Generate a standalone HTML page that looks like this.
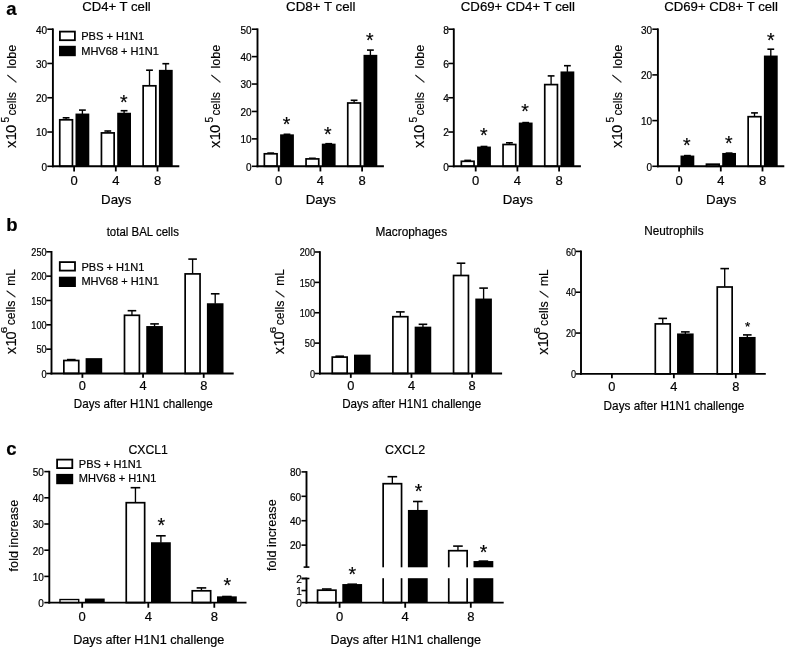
<!DOCTYPE html>
<html lang="en">
<head>
<meta charset="utf-8">
<title>Figure</title>
<style>
html,body{margin:0;padding:0;background:#fff;}
body{width:785px;height:647px;overflow:hidden;}
svg{display:block;filter:blur(0.45px);}
svg text{font-family:"Liberation Sans", sans-serif;fill:#000;stroke:#000;stroke-width:0.2px;}
svg text.r{stroke-width:0.15px;}
svg text.s{stroke-width:0.4px;}
svg line{stroke:#000;}
</style>
</head>
<body>
<svg width="785" height="647" viewBox="0 0 785 647">
<rect x="0" y="0" width="785" height="647" fill="#fff"/>
<text x="6.3" y="15.2" font-size="18.5" font-weight="bold">a</text>
<line x1="66.1" y1="119.45" x2="66.1" y2="117.8" stroke-width="1.35"/>
<line x1="62.7" y1="117.8" x2="69.5" y2="117.8" stroke-width="1.6"/>
<rect x="59.75" y="119.8" width="12.7" height="46.5" fill="#fff" stroke="#000" stroke-width="1.7"/>
<line x1="82.4" y1="114.05" x2="82.4" y2="110.1" stroke-width="1.35"/>
<line x1="79" y1="110.1" x2="85.8" y2="110.1" stroke-width="1.6"/>
<rect x="75.5" y="113.55" width="13.8" height="52.75" fill="#000"/>
<line x1="107.8" y1="132.55" x2="107.8" y2="131" stroke-width="1.35"/>
<line x1="104.4" y1="131" x2="111.2" y2="131" stroke-width="1.6"/>
<rect x="101.45" y="132.9" width="12.7" height="33.4" fill="#fff" stroke="#000" stroke-width="1.7"/>
<line x1="124.1" y1="113.25" x2="124.1" y2="110.7" stroke-width="1.35"/>
<line x1="120.7" y1="110.7" x2="127.5" y2="110.7" stroke-width="1.6"/>
<rect x="117.2" y="112.75" width="13.8" height="53.55" fill="#000"/>
<line x1="149.5" y1="85.45" x2="149.5" y2="70.2" stroke-width="1.35"/>
<line x1="146.1" y1="70.2" x2="152.9" y2="70.2" stroke-width="1.6"/>
<rect x="143.15" y="85.8" width="12.7" height="80.5" fill="#fff" stroke="#000" stroke-width="1.7"/>
<line x1="165.8" y1="70.35" x2="165.8" y2="63.7" stroke-width="1.35"/>
<line x1="162.4" y1="63.7" x2="169.2" y2="63.7" stroke-width="1.6"/>
<rect x="158.9" y="69.85" width="13.8" height="96.45" fill="#000"/>
<line x1="52.9" y1="28.4" x2="52.9" y2="167.25" stroke-width="1.9"/>
<line x1="47.3" y1="166.3" x2="52.9" y2="166.3" stroke-width="1.6"/>
<text x="47" y="170.6" font-size="10" text-anchor="end">0</text>
<line x1="47.3" y1="132.03" x2="52.9" y2="132.03" stroke-width="1.6"/>
<text x="47" y="136.32" font-size="10" text-anchor="end">10</text>
<line x1="47.3" y1="97.75" x2="52.9" y2="97.75" stroke-width="1.6"/>
<text x="47" y="102.05" font-size="10" text-anchor="end">20</text>
<line x1="47.3" y1="63.47" x2="52.9" y2="63.47" stroke-width="1.6"/>
<text x="47" y="67.77" font-size="10" text-anchor="end">30</text>
<line x1="47.3" y1="29.2" x2="52.9" y2="29.2" stroke-width="1.6"/>
<text x="47" y="33.5" font-size="10" text-anchor="end">40</text>
<line x1="51.95" y1="166.3" x2="179.3" y2="166.3" stroke-width="1.9"/>
<line x1="74.1" y1="166.3" x2="74.1" y2="171.45" stroke-width="1.8"/>
<text x="74.1" y="184.6" font-size="13" text-anchor="middle">0</text>
<line x1="115.8" y1="166.3" x2="115.8" y2="171.45" stroke-width="1.8"/>
<text x="115.8" y="184.6" font-size="13" text-anchor="middle">4</text>
<line x1="157.5" y1="166.3" x2="157.5" y2="171.45" stroke-width="1.8"/>
<text x="157.5" y="184.6" font-size="13" text-anchor="middle">8</text>
<text x="82.2" y="10.7" font-size="12.8" textLength="68.6" lengthAdjust="spacingAndGlyphs">CD4+ T cell</text>
<text x="116.2" y="203.9" font-size="13" text-anchor="middle" textLength="30.2" lengthAdjust="spacingAndGlyphs">Days</text>
<text x="123.7" y="109.12" font-size="19.5" text-anchor="middle">*</text>
<text class="r" font-size="14.8" transform="translate(16.3 148) rotate(-90)" x="0 7.7 15">x10</text>
<text font-size="10.2" class="r" transform="translate(8.5 122.6) rotate(-90)">5</text>
<text font-size="12" textLength="23.6" lengthAdjust="spacingAndGlyphs" class="r" transform="translate(16.2 115.6) rotate(-90)">cells</text>
<text class="s" font-size="11.6" transform="translate(15.8 82.6) rotate(-90) skewX(-28)">/</text>
<text font-size="12" textLength="23.8" lengthAdjust="spacingAndGlyphs" class="r" transform="translate(16.2 68.5) rotate(-90)">lobe</text>
<line x1="270.7" y1="153.45" x2="270.7" y2="153.1" stroke-width="1.35"/>
<line x1="267.3" y1="153.1" x2="274.1" y2="153.1" stroke-width="1.6"/>
<rect x="264.35" y="153.8" width="12.7" height="12.5" fill="#fff" stroke="#000" stroke-width="1.7"/>
<line x1="287" y1="134.85" x2="287" y2="134.3" stroke-width="1.35"/>
<line x1="283.6" y1="134.3" x2="290.4" y2="134.3" stroke-width="1.6"/>
<rect x="280.1" y="134.35" width="13.8" height="31.95" fill="#000"/>
<line x1="312.4" y1="158.55" x2="312.4" y2="158.3" stroke-width="1.35"/>
<line x1="309" y1="158.3" x2="315.8" y2="158.3" stroke-width="1.6"/>
<rect x="306.05" y="158.9" width="12.7" height="7.4" fill="#fff" stroke="#000" stroke-width="1.7"/>
<line x1="328.7" y1="144.15" x2="328.7" y2="143.7" stroke-width="1.35"/>
<line x1="325.3" y1="143.7" x2="332.1" y2="143.7" stroke-width="1.6"/>
<rect x="321.8" y="143.65" width="13.8" height="22.65" fill="#000"/>
<line x1="354.1" y1="102.65" x2="354.1" y2="100.3" stroke-width="1.35"/>
<line x1="350.7" y1="100.3" x2="357.5" y2="100.3" stroke-width="1.6"/>
<rect x="347.75" y="103" width="12.7" height="63.3" fill="#fff" stroke="#000" stroke-width="1.7"/>
<line x1="370.4" y1="55.35" x2="370.4" y2="50.1" stroke-width="1.35"/>
<line x1="367" y1="50.1" x2="373.8" y2="50.1" stroke-width="1.6"/>
<rect x="363.5" y="54.85" width="13.8" height="111.45" fill="#000"/>
<line x1="257.5" y1="28.4" x2="257.5" y2="167.25" stroke-width="1.9"/>
<line x1="251.9" y1="166.3" x2="257.5" y2="166.3" stroke-width="1.6"/>
<text x="251.6" y="170.6" font-size="10" text-anchor="end">0</text>
<line x1="251.9" y1="138.88" x2="257.5" y2="138.88" stroke-width="1.6"/>
<text x="251.6" y="143.18" font-size="10" text-anchor="end">10</text>
<line x1="251.9" y1="111.46" x2="257.5" y2="111.46" stroke-width="1.6"/>
<text x="251.6" y="115.76" font-size="10" text-anchor="end">20</text>
<line x1="251.9" y1="84.04" x2="257.5" y2="84.04" stroke-width="1.6"/>
<text x="251.6" y="88.34" font-size="10" text-anchor="end">30</text>
<line x1="251.9" y1="56.62" x2="257.5" y2="56.62" stroke-width="1.6"/>
<text x="251.6" y="60.92" font-size="10" text-anchor="end">40</text>
<line x1="251.9" y1="29.2" x2="257.5" y2="29.2" stroke-width="1.6"/>
<text x="251.6" y="33.5" font-size="10" text-anchor="end">50</text>
<line x1="256.55" y1="166.3" x2="383.9" y2="166.3" stroke-width="1.9"/>
<line x1="278.7" y1="166.3" x2="278.7" y2="171.45" stroke-width="1.8"/>
<text x="278.7" y="184.6" font-size="13" text-anchor="middle">0</text>
<line x1="320.4" y1="166.3" x2="320.4" y2="171.45" stroke-width="1.8"/>
<text x="320.4" y="184.6" font-size="13" text-anchor="middle">4</text>
<line x1="362.1" y1="166.3" x2="362.1" y2="171.45" stroke-width="1.8"/>
<text x="362.1" y="184.6" font-size="13" text-anchor="middle">8</text>
<text x="286.1" y="10.7" font-size="12.8" textLength="69.4" lengthAdjust="spacingAndGlyphs">CD8+ T cell</text>
<text x="320.8" y="203.9" font-size="13" text-anchor="middle" textLength="30.2" lengthAdjust="spacingAndGlyphs">Days</text>
<text x="286.5" y="131.32" font-size="19.5" text-anchor="middle">*</text>
<text x="327.9" y="140.72" font-size="19.5" text-anchor="middle">*</text>
<text x="369.7" y="47.02" font-size="19.5" text-anchor="middle">*</text>
<text class="r" font-size="14.8" transform="translate(220.3 148) rotate(-90)" x="0 7.7 15">x10</text>
<text font-size="10.2" class="r" transform="translate(212.5 122.6) rotate(-90)">5</text>
<text font-size="12" textLength="23.6" lengthAdjust="spacingAndGlyphs" class="r" transform="translate(220.2 115.6) rotate(-90)">cells</text>
<text class="s" font-size="11.6" transform="translate(219.8 82.6) rotate(-90) skewX(-28)">/</text>
<text font-size="12" textLength="23.8" lengthAdjust="spacingAndGlyphs" class="r" transform="translate(220.2 68.5) rotate(-90)">lobe</text>
<line x1="467.7" y1="160.95" x2="467.7" y2="160.4" stroke-width="1.35"/>
<line x1="464.3" y1="160.4" x2="471.1" y2="160.4" stroke-width="1.6"/>
<rect x="461.35" y="161.3" width="12.7" height="5" fill="#fff" stroke="#000" stroke-width="1.7"/>
<line x1="484" y1="147.05" x2="484" y2="146.5" stroke-width="1.35"/>
<line x1="480.6" y1="146.5" x2="487.4" y2="146.5" stroke-width="1.6"/>
<rect x="477.1" y="146.55" width="13.8" height="19.75" fill="#000"/>
<line x1="509.4" y1="144.15" x2="509.4" y2="142.8" stroke-width="1.35"/>
<line x1="506" y1="142.8" x2="512.8" y2="142.8" stroke-width="1.6"/>
<rect x="503.05" y="144.5" width="12.7" height="21.8" fill="#fff" stroke="#000" stroke-width="1.7"/>
<line x1="525.7" y1="123.05" x2="525.7" y2="122.6" stroke-width="1.35"/>
<line x1="522.3" y1="122.6" x2="529.1" y2="122.6" stroke-width="1.6"/>
<rect x="518.8" y="122.55" width="13.8" height="43.75" fill="#000"/>
<line x1="551.1" y1="84.25" x2="551.1" y2="75.9" stroke-width="1.35"/>
<line x1="547.7" y1="75.9" x2="554.5" y2="75.9" stroke-width="1.6"/>
<rect x="544.75" y="84.6" width="12.7" height="81.7" fill="#fff" stroke="#000" stroke-width="1.7"/>
<line x1="567.4" y1="71.95" x2="567.4" y2="65.7" stroke-width="1.35"/>
<line x1="564" y1="65.7" x2="570.8" y2="65.7" stroke-width="1.6"/>
<rect x="560.5" y="71.45" width="13.8" height="94.85" fill="#000"/>
<line x1="453.8" y1="28.4" x2="453.8" y2="167.25" stroke-width="1.9"/>
<line x1="448.2" y1="166.3" x2="453.8" y2="166.3" stroke-width="1.6"/>
<text x="448.8" y="170.6" font-size="10" text-anchor="end">0</text>
<line x1="448.2" y1="132.03" x2="453.8" y2="132.03" stroke-width="1.6"/>
<text x="448.8" y="136.32" font-size="10" text-anchor="end">2</text>
<line x1="448.2" y1="97.75" x2="453.8" y2="97.75" stroke-width="1.6"/>
<text x="448.8" y="102.05" font-size="10" text-anchor="end">4</text>
<line x1="448.2" y1="63.47" x2="453.8" y2="63.47" stroke-width="1.6"/>
<text x="448.8" y="67.77" font-size="10" text-anchor="end">6</text>
<line x1="448.2" y1="29.2" x2="453.8" y2="29.2" stroke-width="1.6"/>
<text x="448.8" y="33.5" font-size="10" text-anchor="end">8</text>
<line x1="452.85" y1="166.3" x2="580.9" y2="166.3" stroke-width="1.9"/>
<line x1="475.7" y1="166.3" x2="475.7" y2="171.45" stroke-width="1.8"/>
<text x="475.7" y="184.6" font-size="13" text-anchor="middle">0</text>
<line x1="517.4" y1="166.3" x2="517.4" y2="171.45" stroke-width="1.8"/>
<text x="517.4" y="184.6" font-size="13" text-anchor="middle">4</text>
<line x1="559.1" y1="166.3" x2="559.1" y2="171.45" stroke-width="1.8"/>
<text x="559.1" y="184.6" font-size="13" text-anchor="middle">8</text>
<text x="460.8" y="10.7" font-size="12.8" textLength="114.2" lengthAdjust="spacingAndGlyphs">CD69+ CD4+ T cell</text>
<text x="517.8" y="203.9" font-size="13" text-anchor="middle" textLength="30.2" lengthAdjust="spacingAndGlyphs">Days</text>
<text x="483.7" y="142.12" font-size="19.5" text-anchor="middle">*</text>
<text x="525" y="118.22" font-size="19.5" text-anchor="middle">*</text>
<text class="r" font-size="14.8" transform="translate(424.4 148) rotate(-90)" x="0 7.7 15">x10</text>
<text font-size="10.2" class="r" transform="translate(416.6 122.6) rotate(-90)">5</text>
<text font-size="12" textLength="23.6" lengthAdjust="spacingAndGlyphs" class="r" transform="translate(424.3 115.6) rotate(-90)">cells</text>
<text class="s" font-size="11.6" transform="translate(423.9 82.6) rotate(-90) skewX(-28)">/</text>
<text font-size="12" textLength="23.8" lengthAdjust="spacingAndGlyphs" class="r" transform="translate(424.3 68.5) rotate(-90)">lobe</text>
<line x1="687.4" y1="156.05" x2="687.4" y2="155.6" stroke-width="1.35"/>
<line x1="684" y1="155.6" x2="690.8" y2="155.6" stroke-width="1.6"/>
<rect x="680.5" y="155.55" width="13.8" height="10.75" fill="#000"/>
<rect x="706.45" y="164.2" width="12.7" height="2.1" fill="#fff" stroke="#000" stroke-width="1.7"/>
<line x1="729.1" y1="153.45" x2="729.1" y2="153.1" stroke-width="1.35"/>
<line x1="725.7" y1="153.1" x2="732.5" y2="153.1" stroke-width="1.6"/>
<rect x="722.2" y="152.95" width="13.8" height="13.35" fill="#000"/>
<line x1="754.5" y1="116.35" x2="754.5" y2="112.9" stroke-width="1.35"/>
<line x1="751.1" y1="112.9" x2="757.9" y2="112.9" stroke-width="1.6"/>
<rect x="748.15" y="116.7" width="12.7" height="49.6" fill="#fff" stroke="#000" stroke-width="1.7"/>
<line x1="770.8" y1="56.05" x2="770.8" y2="49.2" stroke-width="1.35"/>
<line x1="767.4" y1="49.2" x2="774.2" y2="49.2" stroke-width="1.6"/>
<rect x="763.9" y="55.55" width="13.8" height="110.75" fill="#000"/>
<line x1="657.9" y1="28.4" x2="657.9" y2="167.25" stroke-width="1.9"/>
<line x1="652.3" y1="166.3" x2="657.9" y2="166.3" stroke-width="1.6"/>
<text x="652" y="170.6" font-size="10" text-anchor="end">0</text>
<line x1="652.3" y1="120.6" x2="657.9" y2="120.6" stroke-width="1.6"/>
<text x="652" y="124.9" font-size="10" text-anchor="end">10</text>
<line x1="652.3" y1="74.9" x2="657.9" y2="74.9" stroke-width="1.6"/>
<text x="652" y="79.2" font-size="10" text-anchor="end">20</text>
<line x1="652.3" y1="29.2" x2="657.9" y2="29.2" stroke-width="1.6"/>
<text x="652" y="33.5" font-size="10" text-anchor="end">30</text>
<line x1="656.95" y1="166.3" x2="784.3" y2="166.3" stroke-width="1.9"/>
<line x1="679.1" y1="166.3" x2="679.1" y2="171.45" stroke-width="1.8"/>
<text x="679.1" y="184.6" font-size="13" text-anchor="middle">0</text>
<line x1="720.8" y1="166.3" x2="720.8" y2="171.45" stroke-width="1.8"/>
<text x="720.8" y="184.6" font-size="13" text-anchor="middle">4</text>
<line x1="762.5" y1="166.3" x2="762.5" y2="171.45" stroke-width="1.8"/>
<text x="762.5" y="184.6" font-size="13" text-anchor="middle">8</text>
<text x="664.2" y="10.7" font-size="12.8" textLength="113.8" lengthAdjust="spacingAndGlyphs">CD69+ CD8+ T cell</text>
<text x="721.2" y="203.9" font-size="13" text-anchor="middle" textLength="30.2" lengthAdjust="spacingAndGlyphs">Days</text>
<text x="686.9" y="152.12" font-size="19.5" text-anchor="middle">*</text>
<text x="728.7" y="149.52" font-size="19.5" text-anchor="middle">*</text>
<text x="770.8" y="46.92" font-size="19.5" text-anchor="middle">*</text>
<text class="r" font-size="14.8" transform="translate(621.6 148) rotate(-90)" x="0 7.7 15">x10</text>
<text font-size="10.2" class="r" transform="translate(613.8 122.6) rotate(-90)">5</text>
<text font-size="12" textLength="23.6" lengthAdjust="spacingAndGlyphs" class="r" transform="translate(621.5 115.6) rotate(-90)">cells</text>
<text class="s" font-size="11.6" transform="translate(621.1 82.6) rotate(-90) skewX(-28)">/</text>
<text font-size="12" textLength="23.8" lengthAdjust="spacingAndGlyphs" class="r" transform="translate(621.5 68.5) rotate(-90)">lobe</text>
<rect x="59.9" y="31.6" width="15" height="8.6" fill="#fff" stroke="#000" stroke-width="1.8"/>
<rect x="59" y="45.8" width="16.8" height="10.4" fill="#000"/>
<text x="81.2" y="40.1" font-size="10.9" textLength="63" lengthAdjust="spacingAndGlyphs">PBS + H1N1</text>
<text x="81.2" y="54.6" font-size="10.9" textLength="77.6" lengthAdjust="spacingAndGlyphs">MHV68 + H1N1</text>
<text x="6.3" y="230.9" font-size="18.5" font-weight="bold">b</text>
<line x1="71.3" y1="360.15" x2="71.3" y2="359.6" stroke-width="1.35"/>
<line x1="67" y1="359.6" x2="75.6" y2="359.6" stroke-width="1.6"/>
<rect x="63.85" y="360.5" width="14.9" height="13" fill="#fff" stroke="#000" stroke-width="1.7"/>
<rect x="85.6" y="358.15" width="16.6" height="15.35" fill="#000"/>
<line x1="131.95" y1="314.95" x2="131.95" y2="310.7" stroke-width="1.35"/>
<line x1="127.65" y1="310.7" x2="136.25" y2="310.7" stroke-width="1.6"/>
<rect x="124.5" y="315.3" width="14.9" height="58.2" fill="#fff" stroke="#000" stroke-width="1.7"/>
<line x1="154.55" y1="326.55" x2="154.55" y2="323.9" stroke-width="1.35"/>
<line x1="150.25" y1="323.9" x2="158.85" y2="323.9" stroke-width="1.6"/>
<rect x="146.25" y="326.05" width="16.6" height="47.45" fill="#000"/>
<line x1="192.6" y1="273.55" x2="192.6" y2="259.1" stroke-width="1.35"/>
<line x1="188.3" y1="259.1" x2="196.9" y2="259.1" stroke-width="1.6"/>
<rect x="185.15" y="273.9" width="14.9" height="99.6" fill="#fff" stroke="#000" stroke-width="1.7"/>
<line x1="215.2" y1="303.75" x2="215.2" y2="293.8" stroke-width="1.35"/>
<line x1="210.9" y1="293.8" x2="219.5" y2="293.8" stroke-width="1.6"/>
<rect x="206.9" y="303.25" width="16.6" height="70.25" fill="#000"/>
<line x1="51.5" y1="251" x2="51.5" y2="374.45" stroke-width="1.9"/>
<line x1="46.3" y1="373.5" x2="51.5" y2="373.5" stroke-width="1.6"/>
<text x="46.6" y="377.62" font-size="10.3" text-anchor="end" textLength="5.1" lengthAdjust="spacingAndGlyphs">0</text>
<line x1="46.3" y1="349.16" x2="51.5" y2="349.16" stroke-width="1.6"/>
<text x="46.6" y="353.28" font-size="10.3" text-anchor="end" textLength="10.19" lengthAdjust="spacingAndGlyphs">50</text>
<line x1="46.3" y1="324.82" x2="51.5" y2="324.82" stroke-width="1.6"/>
<text x="46.6" y="328.94" font-size="10.3" text-anchor="end" textLength="15.29" lengthAdjust="spacingAndGlyphs">100</text>
<line x1="46.3" y1="300.48" x2="51.5" y2="300.48" stroke-width="1.6"/>
<text x="46.6" y="304.6" font-size="10.3" text-anchor="end" textLength="15.29" lengthAdjust="spacingAndGlyphs">150</text>
<line x1="46.3" y1="276.14" x2="51.5" y2="276.14" stroke-width="1.6"/>
<text x="46.6" y="280.26" font-size="10.3" text-anchor="end" textLength="15.29" lengthAdjust="spacingAndGlyphs">200</text>
<line x1="46.3" y1="251.8" x2="51.5" y2="251.8" stroke-width="1.6"/>
<text x="46.6" y="255.92" font-size="10.3" text-anchor="end" textLength="15.29" lengthAdjust="spacingAndGlyphs">250</text>
<line x1="50.55" y1="373.5" x2="233.7" y2="373.5" stroke-width="1.9"/>
<line x1="82.4" y1="373.5" x2="82.4" y2="377.85" stroke-width="1.8"/>
<text x="82.4" y="389.7" font-size="12.8" text-anchor="middle">0</text>
<line x1="143.05" y1="373.5" x2="143.05" y2="377.85" stroke-width="1.8"/>
<text x="143.05" y="389.7" font-size="12.8" text-anchor="middle">4</text>
<line x1="203.7" y1="373.5" x2="203.7" y2="377.85" stroke-width="1.8"/>
<text x="203.7" y="389.7" font-size="12.8" text-anchor="middle">8</text>
<text x="106.7" y="236.2" font-size="12.6" textLength="72.2" lengthAdjust="spacingAndGlyphs">total BAL cells</text>
<text x="73.8" y="408.3" font-size="13" textLength="139" lengthAdjust="spacingAndGlyphs">Days after H1N1 challenge</text>
<text class="r" font-size="14.6" transform="translate(15.6 354.2) rotate(-90)" x="0 7.6 14.8">x10</text>
<text font-size="9.6" textLength="6.6" lengthAdjust="spacingAndGlyphs" class="r" transform="translate(7.1 333.2) rotate(-90)">6</text>
<text font-size="12" textLength="24.6" lengthAdjust="spacingAndGlyphs" class="r" transform="translate(15.4 325.3) rotate(-90)">cells</text>
<text class="s" font-size="11.2" transform="translate(15.1 297.3) rotate(-90) skewX(-24)">/</text>
<text font-size="12" textLength="16.6" lengthAdjust="spacingAndGlyphs" class="r" transform="translate(15.4 285.7) rotate(-90)">mL</text>
<line x1="339.7" y1="356.75" x2="339.7" y2="356.2" stroke-width="1.35"/>
<line x1="335.4" y1="356.2" x2="344" y2="356.2" stroke-width="1.6"/>
<rect x="332.25" y="357.1" width="14.9" height="16.4" fill="#fff" stroke="#000" stroke-width="1.7"/>
<rect x="354" y="354.65" width="16.6" height="18.85" fill="#000"/>
<line x1="400.35" y1="316.35" x2="400.35" y2="311.9" stroke-width="1.35"/>
<line x1="396.05" y1="311.9" x2="404.65" y2="311.9" stroke-width="1.6"/>
<rect x="392.9" y="316.7" width="14.9" height="56.8" fill="#fff" stroke="#000" stroke-width="1.7"/>
<line x1="422.95" y1="327.15" x2="422.95" y2="324.3" stroke-width="1.35"/>
<line x1="418.65" y1="324.3" x2="427.25" y2="324.3" stroke-width="1.6"/>
<rect x="414.65" y="326.65" width="16.6" height="46.85" fill="#000"/>
<line x1="461" y1="275.15" x2="461" y2="263.2" stroke-width="1.35"/>
<line x1="456.7" y1="263.2" x2="465.3" y2="263.2" stroke-width="1.6"/>
<rect x="453.55" y="275.5" width="14.9" height="98" fill="#fff" stroke="#000" stroke-width="1.7"/>
<line x1="483.6" y1="299.05" x2="483.6" y2="288.1" stroke-width="1.35"/>
<line x1="479.3" y1="288.1" x2="487.9" y2="288.1" stroke-width="1.6"/>
<rect x="475.3" y="298.55" width="16.6" height="74.95" fill="#000"/>
<line x1="319.9" y1="251.2" x2="319.9" y2="374.45" stroke-width="1.9"/>
<line x1="314.7" y1="373.5" x2="319.9" y2="373.5" stroke-width="1.6"/>
<text x="315" y="377.62" font-size="10.3" text-anchor="end" textLength="5.1" lengthAdjust="spacingAndGlyphs">0</text>
<line x1="314.7" y1="343.12" x2="319.9" y2="343.12" stroke-width="1.6"/>
<text x="315" y="347.25" font-size="10.3" text-anchor="end" textLength="10.19" lengthAdjust="spacingAndGlyphs">50</text>
<line x1="314.7" y1="312.75" x2="319.9" y2="312.75" stroke-width="1.6"/>
<text x="315" y="316.87" font-size="10.3" text-anchor="end" textLength="15.29" lengthAdjust="spacingAndGlyphs">100</text>
<line x1="314.7" y1="282.38" x2="319.9" y2="282.38" stroke-width="1.6"/>
<text x="315" y="286.5" font-size="10.3" text-anchor="end" textLength="15.29" lengthAdjust="spacingAndGlyphs">150</text>
<line x1="314.7" y1="252" x2="319.9" y2="252" stroke-width="1.6"/>
<text x="315" y="256.12" font-size="10.3" text-anchor="end" textLength="15.29" lengthAdjust="spacingAndGlyphs">200</text>
<line x1="318.95" y1="373.5" x2="502.1" y2="373.5" stroke-width="1.9"/>
<line x1="350.8" y1="373.5" x2="350.8" y2="377.85" stroke-width="1.8"/>
<text x="350.8" y="389.7" font-size="12.8" text-anchor="middle">0</text>
<line x1="411.45" y1="373.5" x2="411.45" y2="377.85" stroke-width="1.8"/>
<text x="411.45" y="389.7" font-size="12.8" text-anchor="middle">4</text>
<line x1="472.1" y1="373.5" x2="472.1" y2="377.85" stroke-width="1.8"/>
<text x="472.1" y="389.7" font-size="12.8" text-anchor="middle">8</text>
<text x="375.4" y="236.2" font-size="12.6" textLength="71.7" lengthAdjust="spacingAndGlyphs">Macrophages</text>
<text x="342.2" y="408.3" font-size="13" textLength="139" lengthAdjust="spacingAndGlyphs">Days after H1N1 challenge</text>
<text class="r" font-size="14.6" transform="translate(284 354.2) rotate(-90)" x="0 7.6 14.8">x10</text>
<text font-size="9.6" textLength="6.6" lengthAdjust="spacingAndGlyphs" class="r" transform="translate(275.5 333.2) rotate(-90)">6</text>
<text font-size="12" textLength="24.6" lengthAdjust="spacingAndGlyphs" class="r" transform="translate(283.8 325.3) rotate(-90)">cells</text>
<text class="s" font-size="11.2" transform="translate(283.5 297.3) rotate(-90) skewX(-24)">/</text>
<text font-size="12" textLength="16.6" lengthAdjust="spacingAndGlyphs" class="r" transform="translate(283.8 285.7) rotate(-90)">mL</text>
<line x1="662.75" y1="323.55" x2="662.75" y2="318.4" stroke-width="1.35"/>
<line x1="658.45" y1="318.4" x2="667.05" y2="318.4" stroke-width="1.6"/>
<rect x="655.3" y="323.9" width="14.9" height="50" fill="#fff" stroke="#000" stroke-width="1.7"/>
<line x1="685.35" y1="333.95" x2="685.35" y2="331.9" stroke-width="1.35"/>
<line x1="681.05" y1="331.9" x2="689.65" y2="331.9" stroke-width="1.6"/>
<rect x="677.05" y="333.45" width="16.6" height="40.45" fill="#000"/>
<line x1="724.7" y1="286.65" x2="724.7" y2="268.6" stroke-width="1.35"/>
<line x1="720.4" y1="268.6" x2="729" y2="268.6" stroke-width="1.6"/>
<rect x="717.25" y="287" width="14.9" height="86.9" fill="#fff" stroke="#000" stroke-width="1.7"/>
<line x1="747.3" y1="337.45" x2="747.3" y2="334.9" stroke-width="1.35"/>
<line x1="743" y1="334.9" x2="751.6" y2="334.9" stroke-width="1.6"/>
<rect x="739" y="336.95" width="16.6" height="36.95" fill="#000"/>
<line x1="581" y1="250.6" x2="581" y2="374.85" stroke-width="1.9"/>
<line x1="575.8" y1="373.9" x2="581" y2="373.9" stroke-width="1.6"/>
<text x="576.1" y="378.02" font-size="10.3" text-anchor="end" textLength="5.1" lengthAdjust="spacingAndGlyphs">0</text>
<line x1="575.8" y1="333.07" x2="581" y2="333.07" stroke-width="1.6"/>
<text x="576.1" y="337.19" font-size="10.3" text-anchor="end" textLength="10.19" lengthAdjust="spacingAndGlyphs">20</text>
<line x1="575.8" y1="292.23" x2="581" y2="292.23" stroke-width="1.6"/>
<text x="576.1" y="296.35" font-size="10.3" text-anchor="end" textLength="10.19" lengthAdjust="spacingAndGlyphs">40</text>
<line x1="575.8" y1="251.4" x2="581" y2="251.4" stroke-width="1.6"/>
<text x="576.1" y="255.52" font-size="10.3" text-anchor="end" textLength="10.19" lengthAdjust="spacingAndGlyphs">60</text>
<line x1="580.05" y1="373.9" x2="765.8" y2="373.9" stroke-width="1.9"/>
<line x1="611.9" y1="373.9" x2="611.9" y2="378.25" stroke-width="1.8"/>
<text x="611.9" y="390.9" font-size="12.8" text-anchor="middle">0</text>
<line x1="673.85" y1="373.9" x2="673.85" y2="378.25" stroke-width="1.8"/>
<text x="673.85" y="390.9" font-size="12.8" text-anchor="middle">4</text>
<line x1="735.8" y1="373.9" x2="735.8" y2="378.25" stroke-width="1.8"/>
<text x="735.8" y="390.9" font-size="12.8" text-anchor="middle">8</text>
<text x="644.2" y="235.4" font-size="12.6" textLength="59.4" lengthAdjust="spacingAndGlyphs">Neutrophils</text>
<text x="603.6" y="409.5" font-size="13" textLength="140.8" lengthAdjust="spacingAndGlyphs">Days after H1N1 challenge</text>
<text class="r" font-size="14.6" transform="translate(548.3 354.8) rotate(-90)" x="0 7.6 14.8">x10</text>
<text font-size="9.6" textLength="6.6" lengthAdjust="spacingAndGlyphs" class="r" transform="translate(539.8 333.8) rotate(-90)">6</text>
<text font-size="12" textLength="24.6" lengthAdjust="spacingAndGlyphs" class="r" transform="translate(548.1 325.9) rotate(-90)">cells</text>
<text class="s" font-size="11.2" transform="translate(547.8 297.6) rotate(-90) skewX(-24)">/</text>
<text font-size="12" textLength="16.6" lengthAdjust="spacingAndGlyphs" class="r" transform="translate(548.1 286) rotate(-90)">mL</text>
<text x="747.7" y="331" font-size="13.5" text-anchor="middle">*</text>
<rect x="59.8" y="262.1" width="15.2" height="8.5" fill="#fff" stroke="#000" stroke-width="1.8"/>
<rect x="58.9" y="276.7" width="17" height="10.3" fill="#000"/>
<text x="81.4" y="271" font-size="10.9" textLength="63" lengthAdjust="spacingAndGlyphs">PBS + H1N1</text>
<text x="81.4" y="285" font-size="10.9" textLength="77.4" lengthAdjust="spacingAndGlyphs">MHV68 + H1N1</text>
<text x="6.3" y="454.6" font-size="18.5" font-weight="bold">c</text>
<rect x="59.97" y="599.52" width="18.75" height="3.08" fill="#fff" stroke="#000" stroke-width="1.35"/>
<rect x="84.9" y="598.55" width="19.8" height="4.05" fill="#000"/>
<line x1="135.45" y1="502.35" x2="135.45" y2="487.7" stroke-width="1.35"/>
<line x1="130.65" y1="487.7" x2="140.25" y2="487.7" stroke-width="1.6"/>
<rect x="126.25" y="502.7" width="18.4" height="99.9" fill="#fff" stroke="#000" stroke-width="1.7"/>
<line x1="160.9" y1="542.75" x2="160.9" y2="535.8" stroke-width="1.35"/>
<line x1="156.1" y1="535.8" x2="165.7" y2="535.8" stroke-width="1.6"/>
<rect x="151" y="542.25" width="19.8" height="60.35" fill="#000"/>
<line x1="201.45" y1="590.45" x2="201.45" y2="587.9" stroke-width="1.35"/>
<line x1="196.65" y1="587.9" x2="206.25" y2="587.9" stroke-width="1.6"/>
<rect x="192.25" y="590.8" width="18.4" height="11.8" fill="#fff" stroke="#000" stroke-width="1.7"/>
<line x1="226.9" y1="596.85" x2="226.9" y2="596.5" stroke-width="1.35"/>
<line x1="222.1" y1="596.5" x2="231.7" y2="596.5" stroke-width="1.6"/>
<rect x="217" y="596.35" width="19.8" height="6.25" fill="#000"/>
<line x1="49.3" y1="470.8" x2="49.3" y2="603.55" stroke-width="1.9"/>
<line x1="44.3" y1="602.6" x2="49.3" y2="602.6" stroke-width="1.6"/>
<text x="43.8" y="606.9" font-size="10" text-anchor="end">0</text>
<line x1="44.3" y1="576.4" x2="49.3" y2="576.4" stroke-width="1.6"/>
<text x="43.8" y="580.7" font-size="10" text-anchor="end">10</text>
<line x1="44.3" y1="550.2" x2="49.3" y2="550.2" stroke-width="1.6"/>
<text x="43.8" y="554.5" font-size="10" text-anchor="end">20</text>
<line x1="44.3" y1="524" x2="49.3" y2="524" stroke-width="1.6"/>
<text x="43.8" y="528.3" font-size="10" text-anchor="end">30</text>
<line x1="44.3" y1="497.8" x2="49.3" y2="497.8" stroke-width="1.6"/>
<text x="43.8" y="502.1" font-size="10" text-anchor="end">40</text>
<line x1="44.3" y1="471.6" x2="49.3" y2="471.6" stroke-width="1.6"/>
<text x="43.8" y="475.9" font-size="10" text-anchor="end">50</text>
<line x1="48.35" y1="602.6" x2="246.5" y2="602.6" stroke-width="1.9"/>
<line x1="82.2" y1="602.6" x2="82.2" y2="607.75" stroke-width="1.8"/>
<text x="82.2" y="620.6" font-size="13" text-anchor="middle">0</text>
<line x1="148.3" y1="602.6" x2="148.3" y2="607.75" stroke-width="1.8"/>
<text x="148.3" y="620.6" font-size="13" text-anchor="middle">4</text>
<line x1="214.3" y1="602.6" x2="214.3" y2="607.75" stroke-width="1.8"/>
<text x="214.3" y="620.6" font-size="13" text-anchor="middle">8</text>
<text x="128.4" y="454" font-size="12.2" textLength="39.5" lengthAdjust="spacingAndGlyphs">CXCL1</text>
<text x="73.2" y="643.5" font-size="12.5" textLength="151.2" lengthAdjust="spacingAndGlyphs">Days after H1N1 challenge</text>
<text x="161.4" y="532.42" font-size="19.5" text-anchor="middle">*</text>
<text x="227.2" y="592.12" font-size="19.5" text-anchor="middle">*</text>
<text font-size="12.4" textLength="71.6" lengthAdjust="spacingAndGlyphs" class="r" transform="translate(17.7 571.4) rotate(-90)">fold increase</text>
<rect x="57.1" y="459.6" width="15.2" height="8.5" fill="#fff" stroke="#000" stroke-width="1.8"/>
<rect x="56.2" y="473.9" width="17" height="10.3" fill="#000"/>
<text x="78.8" y="468.2" font-size="10.9" textLength="63" lengthAdjust="spacingAndGlyphs">PBS + H1N1</text>
<text x="78.8" y="482.4" font-size="10.9" textLength="77.6" lengthAdjust="spacingAndGlyphs">MHV68 + H1N1</text>
<line x1="326.75" y1="589.85" x2="326.75" y2="589" stroke-width="1.35"/>
<line x1="321.95" y1="589" x2="331.55" y2="589" stroke-width="1.6"/>
<rect x="317.55" y="590.2" width="18.4" height="12.4" fill="#fff" stroke="#000" stroke-width="1.7"/>
<line x1="352.2" y1="584.55" x2="352.2" y2="584.2" stroke-width="1.35"/>
<line x1="347.4" y1="584.2" x2="357" y2="584.2" stroke-width="1.6"/>
<rect x="342.3" y="584.05" width="19.8" height="18.55" fill="#000"/>
<line x1="392.35" y1="483.35" x2="392.35" y2="476.7" stroke-width="1.35"/>
<line x1="387.55" y1="476.7" x2="397.15" y2="476.7" stroke-width="1.6"/>
<rect x="383.15" y="483.7" width="18.4" height="118.9" fill="#fff" stroke="#000" stroke-width="1.7"/>
<line x1="417.8" y1="510.45" x2="417.8" y2="501.5" stroke-width="1.35"/>
<line x1="413" y1="501.5" x2="422.6" y2="501.5" stroke-width="1.6"/>
<rect x="407.9" y="509.95" width="19.8" height="92.65" fill="#000"/>
<line x1="457.95" y1="550.35" x2="457.95" y2="546.1" stroke-width="1.35"/>
<line x1="453.15" y1="546.1" x2="462.75" y2="546.1" stroke-width="1.6"/>
<rect x="448.75" y="550.7" width="18.4" height="51.9" fill="#fff" stroke="#000" stroke-width="1.7"/>
<line x1="483.4" y1="561.55" x2="483.4" y2="561.1" stroke-width="1.35"/>
<line x1="478.6" y1="561.1" x2="488.2" y2="561.1" stroke-width="1.6"/>
<rect x="473.5" y="561.05" width="19.8" height="41.55" fill="#000"/>
<rect x="308" y="567.3" width="196" height="10.9" fill="#fff"/>
<line x1="306.5" y1="471.1" x2="306.5" y2="567.05" stroke-width="1.9"/>
<line x1="301.5" y1="545.13" x2="306.5" y2="545.13" stroke-width="1.6"/>
<text x="301" y="549.43" font-size="10" text-anchor="end">20</text>
<line x1="301.5" y1="520.72" x2="306.5" y2="520.72" stroke-width="1.6"/>
<text x="301" y="525.02" font-size="10" text-anchor="end">40</text>
<line x1="301.5" y1="496.31" x2="306.5" y2="496.31" stroke-width="1.6"/>
<text x="301" y="500.61" font-size="10" text-anchor="end">60</text>
<line x1="301.5" y1="471.9" x2="306.5" y2="471.9" stroke-width="1.6"/>
<text x="301" y="476.2" font-size="10" text-anchor="end">80</text>
<line x1="303.6" y1="567.1" x2="309.4" y2="567.1" stroke-width="1.6"/>
<line x1="306.5" y1="577.7" x2="306.5" y2="603.55" stroke-width="1.9"/>
<line x1="301.5" y1="602.6" x2="306.5" y2="602.6" stroke-width="1.6"/>
<text x="301.7" y="606.9" font-size="10" text-anchor="end">0</text>
<line x1="301.5" y1="590.55" x2="306.5" y2="590.55" stroke-width="1.6"/>
<text x="301.7" y="594.85" font-size="10" text-anchor="end">1</text>
<line x1="301.5" y1="578.5" x2="306.5" y2="578.5" stroke-width="1.6"/>
<text x="301.7" y="582.8" font-size="10" text-anchor="end">2</text>
<line x1="301.7" y1="578.5" x2="309.4" y2="578.5" stroke-width="1.6"/>
<line x1="305.55" y1="602.6" x2="503.7" y2="602.6" stroke-width="1.9"/>
<line x1="339.6" y1="602.6" x2="339.6" y2="607.75" stroke-width="1.8"/>
<text x="339.6" y="620.6" font-size="13" text-anchor="middle">0</text>
<line x1="405.2" y1="602.6" x2="405.2" y2="607.75" stroke-width="1.8"/>
<text x="405.2" y="620.6" font-size="13" text-anchor="middle">4</text>
<line x1="470.8" y1="602.6" x2="470.8" y2="607.75" stroke-width="1.8"/>
<text x="470.8" y="620.6" font-size="13" text-anchor="middle">8</text>
<text x="385.1" y="454" font-size="12.2" textLength="40.1" lengthAdjust="spacingAndGlyphs">CXCL2</text>
<text x="330.4" y="643.5" font-size="12.5" textLength="150.5" lengthAdjust="spacingAndGlyphs">Days after H1N1 challenge</text>
<text x="352.4" y="580.62" font-size="19.5" text-anchor="middle">*</text>
<text x="418.6" y="498.12" font-size="19.5" text-anchor="middle">*</text>
<text x="483.6" y="559.02" font-size="19.5" text-anchor="middle">*</text>
<text font-size="12.4" textLength="71.6" lengthAdjust="spacingAndGlyphs" class="r" transform="translate(275.8 570.9) rotate(-90)">fold increase</text>
</svg>
</body>
</html>
